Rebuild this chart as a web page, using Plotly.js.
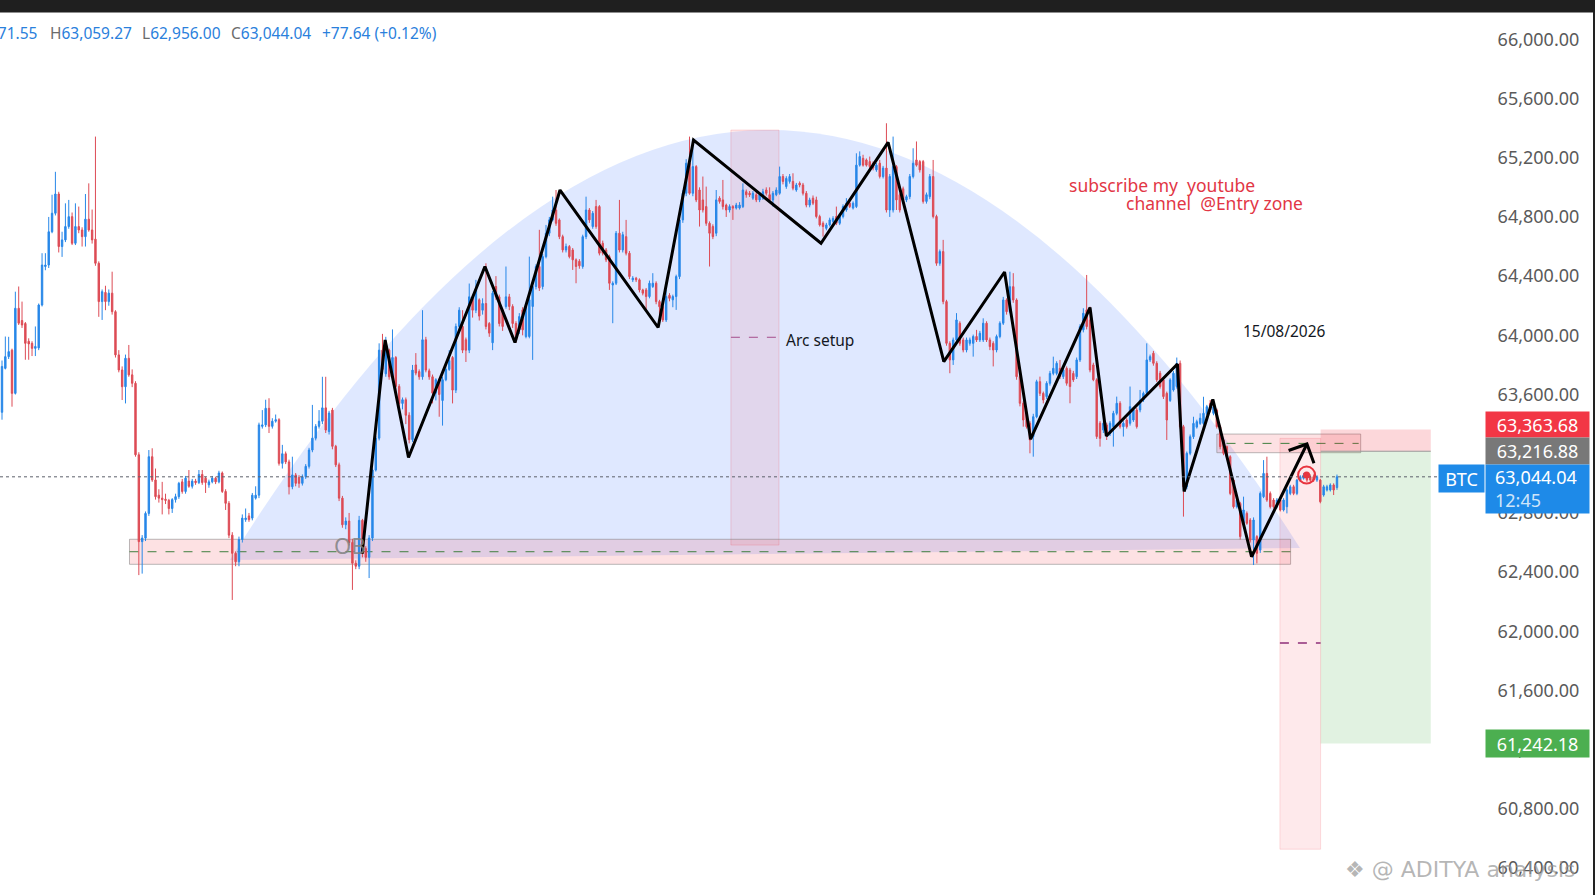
<!DOCTYPE html>
<html><head><meta charset="utf-8">
<script src="https://cdn.plot.ly/plotly-3.0.1.min.js"></script>
<style>html,body{margin:0;padding:0;background:#fff;overflow:hidden}#chart{width:1595px;height:895px}</style>
</head><body><div id="chart"></div>
<script>
// ---------- candle data (BTC, intraday) ----------
const opens=[
63480,63777,63856,63900,63608,64183,64100,64080,63960,63946,
63912,63915,64205,64465,64475,64700,64825,64955,64600,64645,
64735,64802,64622,64735,64712,64667,64785,64712,64650,64487,
64228,64290,64228,64285,64160,63868,63766,63653,63845,63733,
63676,63193,62606,62630,62797,63180,63023,62920,62900,62893,
62885,62830,62890,62910,63010,62945,63015,62980,63015,63005,
63060,63035,62990,63010,63035,63010,63070,62945,62865,62650,
62527,62470,62620,62755,62780,62765,62900,62920,63385,63395,
63507,63385,63420,63430,63135,63200,63145,62977,63057,63040,
63000,63045,63115,63225,63305,63385,63420,63510,63350,63495,
63250,63125,62900,62720,62745,62600,62460,62440,62750,62560,
62500,62630,63090,63305,63900,63740,63900,63720,63850,63655,
63540,63565,63460,63295,63800,63755,63720,63970,63760,63720,
63610,63700,63560,63700,63770,63850,63630,64060,64060,63970,
63900,64260,64170,64240,64170,64215,64080,63950,64330,64260,
64170,64195,64260,64195,64080,64037,64172,63992,63992,64195,
64330,64465,64330,64532,64690,64780,64847,64780,64667,64577,
64600,64577,64510,64500,64465,64667,64847,64735,64870,64870,
64622,64577,64532,64340,64352,64690,64577,64667,64555,64375,
64386,64375,64307,64307,64262,64330,64352,64228,64194,64104,
64270,64240,64262,64397,64780,64960,65163,64960,65140,64982,
64915,64870,64757,64735,64690,64927,64915,64880,64847,64870,
64860,64860,64870,64970,64960,64927,64950,64915,64927,64982,
64950,64915,64950,64960,65073,65005,65040,65040,64982,65028,
65016,64960,64880,64927,64915,64803,64757,64723,64746,64770,
64803,64757,64803,64847,64893,64860,64870,65150,65196,65185,
65174,65163,65118,65163,65073,65130,64847,64847,65140,64950,
64990,64915,64937,65073,65185,65174,65174,64905,64937,65073,
64803,64487,64566,64228,63946,63834,63969,64082,63969,63901,
63946,63946,63992,63969,63969,64082,63969,63946,63901,63992,
64082,64239,64160,64329,64239,63721,63541,63473,63406,63316,
63450,63687,63608,63586,63676,63743,63743,63777,63721,63777,
63766,63743,63721,63834,64037,64172,64104,63800,63700,63406,
63360,63395,63338,63383,63473,63541,63383,63428,63406,63428,
63496,63496,63563,63608,63834,63879,63811,63744,63699,63608,
63560,63631,63654,63811,63383,62977,63203,63315,63380,63405,
63405,63473,63540,63473,63495,63383,63293,63248,63180,63022,
62842,62865,62730,62797,62752,62617,62640,62549,62910,63067,
62932,62887,62842,62887,62820,62842,62932,62977,62932,63022,
63034,63056,63045,63045,63022,63022,62921,62955,62955,62989,
62971.55];
const highs=[
63830,63992,63990,63910,64295,64330,64228,64090,63980,63960,
64060,64215,64555,64555,64800,64950,65105,64970,64700,64892,
64915,64830,64892,64870,64730,64955,65027,64850,65343,64500,
64310,64335,64310,64430,64170,63900,63790,63870,63935,63770,
63690,63210,62650,62810,63225,63237,63100,62960,63010,62930,
62895,62900,62930,63010,63030,63050,63090,63030,63030,63090,
63090,63045,63025,63050,63045,63085,63080,62960,62880,62670,
62540,62640,62790,62830,62800,62935,62980,63410,63495,63565,
63575,63440,63465,63440,63260,63215,63160,63180,63070,63055,
63060,63130,63240,63530,63400,63495,63720,63720,63490,63510,
63260,63140,62915,62770,62800,62625,62480,62780,62760,62575,
62650,63100,63320,63946,64010,63990,63910,64040,63860,63670,
63580,63580,63480,63800,63880,63770,64170,63990,63775,63735,
63710,63710,63720,63790,63900,63860,64080,64190,64170,63985,
64350,64270,64375,64250,64250,64487,64090,64300,64400,64275,
64180,64465,64280,64210,64095,64150,64190,64210,64532,64350,
64480,64713,64550,64746,64800,64937,64982,64790,64680,64620,
64610,64590,64520,64515,64680,64937,64860,64840,64915,64880,
64640,64590,64545,64365,64705,64915,64700,64780,64570,64400,
64395,64385,64315,64320,64370,64420,64365,64240,64250,64307,
64285,64275,64410,64800,64980,65190,65343,65300,65150,65000,
65073,65005,64770,64750,64982,64940,65050,64890,64885,64880,
64895,64900,65027,64985,64975,64975,64970,64965,64990,65000,
65000,64975,65000,65140,65090,65075,65090,65095,65030,65040,
65030,64975,64930,64945,64937,64815,64770,64760,64795,64805,
64870,64815,64885,64927,64905,64905,65230,65243,65220,65195,
65208,65175,65165,65185,65145,65433,65090,65343,65150,64960,
65005,64950,65090,65264,65310,65185,65185,64965,65090,65185,
64815,64580,64645,64240,63960,63985,64150,64095,63985,63985,
63985,64005,64037,64030,64115,64095,63985,63960,64005,64095,
64260,64250,64430,64420,64250,63735,63555,63490,63420,63470,
63700,63721,63620,63690,63760,63856,63825,63834,63780,63790,
63780,63760,63850,64075,64183,64408,64194,63815,63710,63420,
63420,63410,63420,63490,63586,63555,63420,63440,63654,63510,
63510,63631,63620,63946,63870,63895,63825,63760,63710,63620,
63710,63760,63850,63830,63395,63215,63330,63450,63430,63473,
63585,63530,63563,63530,63505,63395,63300,63255,63190,63030,
62900,62875,62910,62810,62765,62770,62650,62945,63157,63180,
62945,62900,62900,62900,62900,62965,62990,62990,63030,63055,
63070,63070,63060,63060,63055,63030,62990,62990,63000,63000,
63059.27];
const lows=[
63430,63770,63840,63518,63600,64070,64050,63835,63835,63860,
63860,63900,64195,64440,64455,64690,64810,64560,64530,64630,
64720,64610,64610,64690,64600,64600,64700,64620,64470,64125,
64104,64170,64200,64140,63850,63750,63563,63540,63720,63650,
63180,62380,62390,62610,62780,63010,62890,62870,62790,62860,
62790,62800,62870,62895,62930,62930,62970,62965,62990,62995,
62990,62935,62970,63000,62995,63000,62935,62820,62630,62212,
62440,62440,62600,62740,62740,62750,62890,62900,63370,63380,
63340,63370,63410,63120,63100,63130,62925,62960,62980,62970,
62985,63030,63100,63210,63290,63370,63400,63340,63330,63230,
63110,62880,62700,62690,62580,62280,62420,62420,62500,62470,
62360,62610,63080,63290,63740,63720,63700,63700,63600,63495,
63500,63400,63270,63280,63730,63700,63700,63750,63700,63540,
63560,63450,63390,63690,63760,63540,63610,64040,63880,63820,
63880,64120,64150,64100,64140,64040,63990,63900,64240,64060,
64030,64180,64170,64050,63950,64010,64000,63980,63980,63834,
64310,64300,64310,64520,64670,64770,64740,64650,64560,64560,
64520,64442,64352,64450,64450,64650,64760,64720,64720,64540,
64540,64495,64307,64082,64340,64560,64560,64540,64380,64360,
64360,64290,64270,64172,64250,64320,64210,64127,64090,64090,
64230,64190,64172,64380,64760,64940,64950,64940,64900,64735,
64830,64740,64465,64650,64670,64890,64850,64800,64830,64780,
64850,64850,64860,64930,64935,64915,64900,64900,64915,64945,
64900,64870,64940,64950,65020,64990,65025,64980,64970,65000,
64945,64865,64865,64880,64790,64735,64667,64710,64735,64760,
64745,64745,64790,64835,64860,64850,64860,65140,65140,65140,
65125,65115,65105,65060,65060,64830,64800,64830,64847,64830,
64900,64900,64920,65060,65140,65100,64890,64890,64920,64790,
64470,64470,64210,63930,63744,63800,63950,63930,63885,63885,
63930,63856,63955,63955,63955,63955,63900,63790,63885,63980,
64070,64140,64150,64220,63700,63520,63383,63370,63203,63180,
63440,63590,63540,63570,63660,63730,63730,63705,63705,63660,
63541,63685,63705,63820,64020,64040,63750,63690,63300,63248,
63340,63293,63320,63248,63460,63370,63316,63370,63390,63415,
63370,63480,63550,63595,63820,63795,63685,63640,63570,63293,
63550,63620,63640,63370,62775,62960,63190,63300,63370,63395,
63395,63460,63480,63460,63370,63230,63190,63160,62920,62830,
62830,62620,62720,62720,62600,62448,62459,62530,62900,62875,
62830,62830,62830,62810,62810,62797,62920,62920,62920,63010,
63025,63010,63010,63010,63010,62865,62910,62945,62945,62921,
62956];
const closes=[
63790,63856,63890,63608,64183,64082,64070,63946,63942,63912,
63925,64205,64475,64475,64700,64825,64955,64600,64645,64735,
64802,64622,64735,64712,64667,64785,64712,64645,64487,64228,
64295,64228,64285,64160,63868,63766,63653,63845,63733,63676,
63193,62606,62630,62797,63180,63023,62910,62900,62890,62885,
62830,62890,62910,63000,62945,63035,62980,63015,63005,63060,
63005,63005,63010,63035,63010,63070,62945,62865,62650,62527,
62470,62620,62765,62765,62755,62920,62920,63395,63395,63507,
63385,63420,63430,63135,63200,63145,62977,63057,63000,63000,
63045,63115,63225,63305,63385,63420,63510,63360,63475,63250,
63125,62900,62720,62745,62600,62460,62440,62750,62530,62500,
62630,63090,63305,63900,63770,63900,63720,63850,63655,63540,
63565,63460,63295,63765,63745,63720,63970,63765,63720,63610,
63700,63600,63700,63770,63830,63630,64060,64170,63900,63900,
64260,64170,64310,64130,64215,64060,64015,64285,64260,64080,
64060,64260,64195,64080,63970,64127,64037,64195,64240,64330,
64465,64320,64532,64690,64780,64847,64757,64667,64577,64600,
64532,64510,64465,64470,64667,64847,64780,64825,64735,64555,
64555,64510,64352,64352,64690,64577,64680,64555,64397,64386,
64375,64307,64285,64262,64352,64352,64228,64194,64104,64262,
64250,64262,64397,64780,64960,65163,64960,65140,64915,64847,
64847,64757,64690,64667,64915,64905,64870,64847,64870,64860,
64880,64880,64982,64950,64950,64960,64915,64950,64970,64960,
64915,64960,64982,65073,65040,65060,65073,64994,65016,65016,
64960,64880,64915,64893,64803,64746,64735,64746,64780,64790,
64757,64803,64870,64893,64870,64893,65150,65208,65150,65150,
65140,65130,65150,65073,65130,64847,65073,65140,64915,64847,
64915,64937,65073,65163,65150,65118,64905,64950,65073,64803,
64487,64566,64228,63946,63834,63969,64104,63946,63901,63969,
63969,63992,63969,64014,64082,63969,63924,63901,63992,64082,
64239,64160,64329,64239,63721,63541,63428,63383,63293,63450,
63687,63608,63563,63676,63743,63777,63811,63721,63766,63676,
63654,63699,63834,64059,64149,64059,63766,63700,63316,63304,
63406,63338,63406,63473,63541,63383,63406,63383,63518,63496,
63383,63563,63608,63834,63856,63811,63699,63654,63586,63428,
63699,63744,63811,63383,62977,63203,63315,63405,63417,63440,
63473,63518,63495,63518,63383,63248,63203,63180,62932,62842,
62887,62640,62820,62730,62617,62752,62527,62932,63067,62887,
62842,62842,62887,62820,62887,62955,62977,62932,63022,63045,
63056,63022,63022,63022,63045,62876,62977,62977,62989,62955,
63044.04];

// ---------- axis ----------
const priceTicks=[60400,60800,61200,61600,62000,62400,62800,63200,63600,64000,64400,64800,65200,65600,66000];
const priceRange=[60218.5,66178];
const barRange=[-0.599,435.96];

// ---------- drawings (bar index, price) ----------
const zigzagIdx=[107.9,114.8,121.8,144.7,153.7,167.2,196.6,207.2,245.4,265.5,282.2,300.4,308.2,326.0,330.9,352.2,354.2,362.8,374.4,391.0];
const zigzagPrice=[62523,63969,63175,64465,63952,64982,64053,65320,64622,65304,63823,64428,63298,64188,63320,63806,62945,63567,62504,63266];
const arrowIdx=[385.5,391.0,393.1];
const arrowPrice=[63222,63266,63135];
const arcIdx=[68.3,228.6,388.9];
const arcPrice=[62482,68253,62563];
const obZoneIdx=[38.2,386.1];
const obZonePrice=[62453,62622,62538];
const arcBandIdx=[218.4,232.8];
const arcBandPrice=[62583,65387,63987];
const upperZoneIdx=[364.0,407.1,366.9,406.5];
const upperZonePrice=[63207,63333,63270];
const tallBandIdx=[382.9,395.1];
const tallBandPrice=[60528,63304,61921];
const positionIdx=[395.1,428.1];
const stopPrice=63363.68, entryPrice=63216.88, targetPrice=61242.18, lastPrice=63044.04;
const circleIdx=390.9, circlePrice=63056;
const labelCenters=[63397.6,63218.6,62961.8,61242.18,63033];

const xs=opens.map((_,i)=>i);
const W=1457, PH=882, TOP=13;
const px=v=>v/W;                       // horizontal pixel -> paper
const py=v=>(895-v)/PH;                // vertical pixel -> paper
const FONT='Noto Sans, Open Sans, sans-serif';

const traces=[
 {type:'candlestick',x:xs,open:opens,high:highs,low:lows,close:closes,
  increasing:{line:{color:'#2787e8',width:1},fillcolor:'#2787e8'},
  decreasing:{line:{color:'#dd4b55',width:1},fillcolor:'#dd4b55'},
  whiskerwidth:0,hoverinfo:'skip',showlegend:false},
 {type:'scatter',mode:'lines',x:zigzagIdx,y:zigzagPrice,line:{color:'#000',width:3},hoverinfo:'skip',showlegend:false},
 {type:'scatter',mode:'lines',x:arrowIdx,y:arrowPrice,line:{color:'#000',width:3},hoverinfo:'skip',showlegend:false}
];

const shapes=[
 {type:'path',xref:'x',yref:'y',layer:'below',
  path:`M ${arcIdx[0]},${arcPrice[0]} Q ${arcIdx[1]},${arcPrice[1]} ${arcIdx[2]},${arcPrice[2]} Z`,
  fillcolor:'rgba(41,98,255,0.15)',line:{width:0}},
 {type:'rect',xref:'x',yref:'y',layer:'below',x0:arcBandIdx[0],x1:arcBandIdx[1],y0:arcBandPrice[0],y1:arcBandPrice[1],
  fillcolor:'rgba(242,54,69,0.10)',line:{color:'rgba(242,54,69,0.18)',width:1}},
 {type:'line',xref:'x',yref:'y',layer:'below',x0:arcBandIdx[0],x1:arcBandIdx[1],y0:arcBandPrice[2],y1:arcBandPrice[2],
  line:{color:'#a64d8c',width:1,dash:'dash'}},
 {type:'rect',xref:'x',yref:'y',layer:'below',x0:obZoneIdx[0],x1:obZoneIdx[1],y0:obZonePrice[0],y1:obZonePrice[1],
  fillcolor:'rgba(242,54,69,0.15)',line:{color:'rgba(130,130,130,0.55)',width:1}},
 {type:'line',xref:'x',yref:'y',layer:'below',x0:obZoneIdx[0],x1:obZoneIdx[1],y0:obZonePrice[2],y1:obZonePrice[2],
  line:{color:'#3f7f3f',width:1,dash:'dash'}},
 {type:'rect',xref:'x',yref:'y',layer:'below',x0:tallBandIdx[0],x1:tallBandIdx[1],y0:tallBandPrice[0],y1:tallBandPrice[1],
  fillcolor:'rgba(242,54,69,0.11)',line:{color:'rgba(242,54,69,0.15)',width:1}},
 {type:'line',xref:'x',yref:'y',layer:'below',x0:tallBandIdx[0],x1:tallBandIdx[1],y0:tallBandPrice[2],y1:tallBandPrice[2],
  line:{color:'#8e2f7a',width:1.5,dash:'dash'}},
 {type:'rect',xref:'x',yref:'y',layer:'below',x0:upperZoneIdx[0],x1:upperZoneIdx[1],y0:upperZonePrice[0],y1:upperZonePrice[1],
  fillcolor:'rgba(242,54,69,0.15)',line:{color:'rgba(130,130,130,0.55)',width:1}},
 {type:'line',xref:'x',yref:'y',layer:'below',x0:upperZoneIdx[2],x1:upperZoneIdx[3],y0:upperZonePrice[2],y1:upperZonePrice[2],
  line:{color:'#3f7f3f',width:1,dash:'dash'}},
 {type:'rect',xref:'x',yref:'y',layer:'below',x0:positionIdx[0],x1:positionIdx[1],y0:entryPrice,y1:stopPrice,
  fillcolor:'rgba(242,54,69,0.2)',line:{width:0}},
 {type:'rect',xref:'x',yref:'y',layer:'below',x0:positionIdx[0],x1:positionIdx[1],y0:targetPrice,y1:entryPrice,
  fillcolor:'rgba(76,175,80,0.17)',line:{width:0}},
 {type:'line',xref:'x',yref:'y',layer:'below',x0:positionIdx[0],x1:positionIdx[1],y0:entryPrice,y1:entryPrice,
  line:{color:'#9a9a9a',width:1}},
 {type:'line',xref:'paper',yref:'y',layer:'above',x0:0,x1:1,y0:lastPrice,y1:lastPrice,
  line:{color:'#5d606b',width:1,dash:'dot'}},
 {type:'circle',xref:'x',yref:'y',layer:'above',x0:circleIdx-2.55,x1:circleIdx+2.55,y0:circlePrice-57,y1:circlePrice+57,
  line:{color:'#e8343f',width:2}},
 {type:'circle',xref:'x',yref:'y',layer:'above',x0:circleIdx-1.05,x1:circleIdx+1.05,y0:circlePrice-24,y1:circlePrice+24,
  fillcolor:'#e8343f',line:{width:0}},
 {type:'rect',xref:'paper',yref:'paper',layer:'above',x0:-0.01,x1:1.1,y0:py(12.5),y1:py(-1),
  fillcolor:'#1f1f1f',line:{width:0}},
 {type:'line',xref:'paper',yref:'paper',layer:'above',x0:px(1594),x1:px(1594),y0:py(896),y1:py(12),
  line:{color:'#222',width:2}}
];

const BLUE='#2a80dc', GREY='#6b6b6b';
const hdr=(x,txt,anchor)=>({xref:'paper',yref:'paper',x:px(x),y:py(33),xanchor:anchor||'left',yanchor:'middle',
  text:txt,showarrow:false,font:{family:FONT,size:15.5,color:BLUE}});
const g=s=>`<span style="color:${GREY}">${s}</span>`;
const LBLFONT={family:FONT,size:18,color:'#fff'};
const lbl=(txt,y,bg,h)=>({xref:'paper',yref:'y',x:px(1485),y:y,xanchor:'left',yanchor:'middle',text:txt,showarrow:false,
  bgcolor:bg,borderpad:3,width:97,height:h,align:'center',valign:'middle',font:LBLFONT});

const annotations=[
 hdr(39,g('O')+'62,971.55','right'),
 hdr(48,g('H')+'63,059.27'),
 hdr(140,g('L')+'62,956.00'),
 hdr(229,g('C')+'63,044.04'),
 hdr(320,'+77.64 (+0.12%)'),
 {xref:'x',yref:'y',x:319.1,y:65016,xanchor:'left',yanchor:'middle',text:'subscribe my\u00a0 youtube',showarrow:false,
  font:{family:FONT,size:17.5,color:'#e23645'}},
 {xref:'x',yref:'y',x:336.2,y:64894,xanchor:'left',yanchor:'middle',text:'channel\u00a0 @Entry zone',showarrow:false,
  font:{family:FONT,size:17.5,color:'#e23645'}},
 {xref:'x',yref:'y',x:371.1,y:64031,xanchor:'left',yanchor:'middle',text:'15/08/2026',showarrow:false,
  font:{family:FONT,size:15.5,color:'#131722'}},
 {xref:'x',yref:'y',x:234.3,y:63969,xanchor:'left',yanchor:'middle',text:'Arc setup',showarrow:false,
  font:{family:FONT,size:15.5,color:'#131722'}},
 {xref:'x',yref:'y',x:98.9,y:62583,xanchor:'left',yanchor:'middle',text:'OB',showarrow:false,
  font:{family:FONT,size:22,color:'rgba(130,130,130,0.85)'}},
 lbl('63,363.68',labelCenters[0],'#f23645',19),
 lbl('63,216.88',labelCenters[1],'#787878',20),
 lbl(' ',labelCenters[2],'#1e8ae8',42),
 {xref:'paper',yref:'y',x:px(1493),y:labelCenters[2],xanchor:'left',yanchor:'middle',
  text:'63,044.04<br><span style="color:rgba(255,255,255,0.8)">12:45</span>',showarrow:false,align:'left',font:LBLFONT},
 lbl('61,242.18',labelCenters[3],'#4caf50',21),
 {xref:'paper',yref:'y',x:px(1438),y:labelCenters[4],xanchor:'left',yanchor:'middle',text:'BTC',showarrow:false,
  bgcolor:'#1e8ae8',borderpad:3,width:39,height:21,align:'center',font:LBLFONT},
 {xref:'paper',yref:'paper',x:px(1343),y:py(869),xanchor:'left',yanchor:'middle',text:'❖ @ ADITYA analysis',showarrow:false,
  font:{family:'DejaVu Sans, Noto Sans, sans-serif',size:22,color:'rgba(150,150,150,0.7)'}}
];

const layout={
 width:1595,height:895,margin:{l:0,r:138,t:TOP,b:0,pad:0},
 paper_bgcolor:'#ffffff',plot_bgcolor:'#ffffff',showlegend:false,boxgap:0.4,
 xaxis:{range:barRange,visible:false,rangeslider:{visible:false},fixedrange:true},
 yaxis:{range:priceRange,side:'right',tickvals:priceTicks,tickformat:',.2f',ticks:'outside',ticklen:36,
  tickcolor:'rgba(0,0,0,0)',showgrid:false,zeroline:false,showline:false,fixedrange:true,
  tickfont:{family:FONT,size:18,color:'#5a5a5a'}},
 shapes:shapes,annotations:annotations
};
Plotly.newPlot('chart',traces,layout,{staticPlot:true,displayModeBar:false});
</script></body></html>
